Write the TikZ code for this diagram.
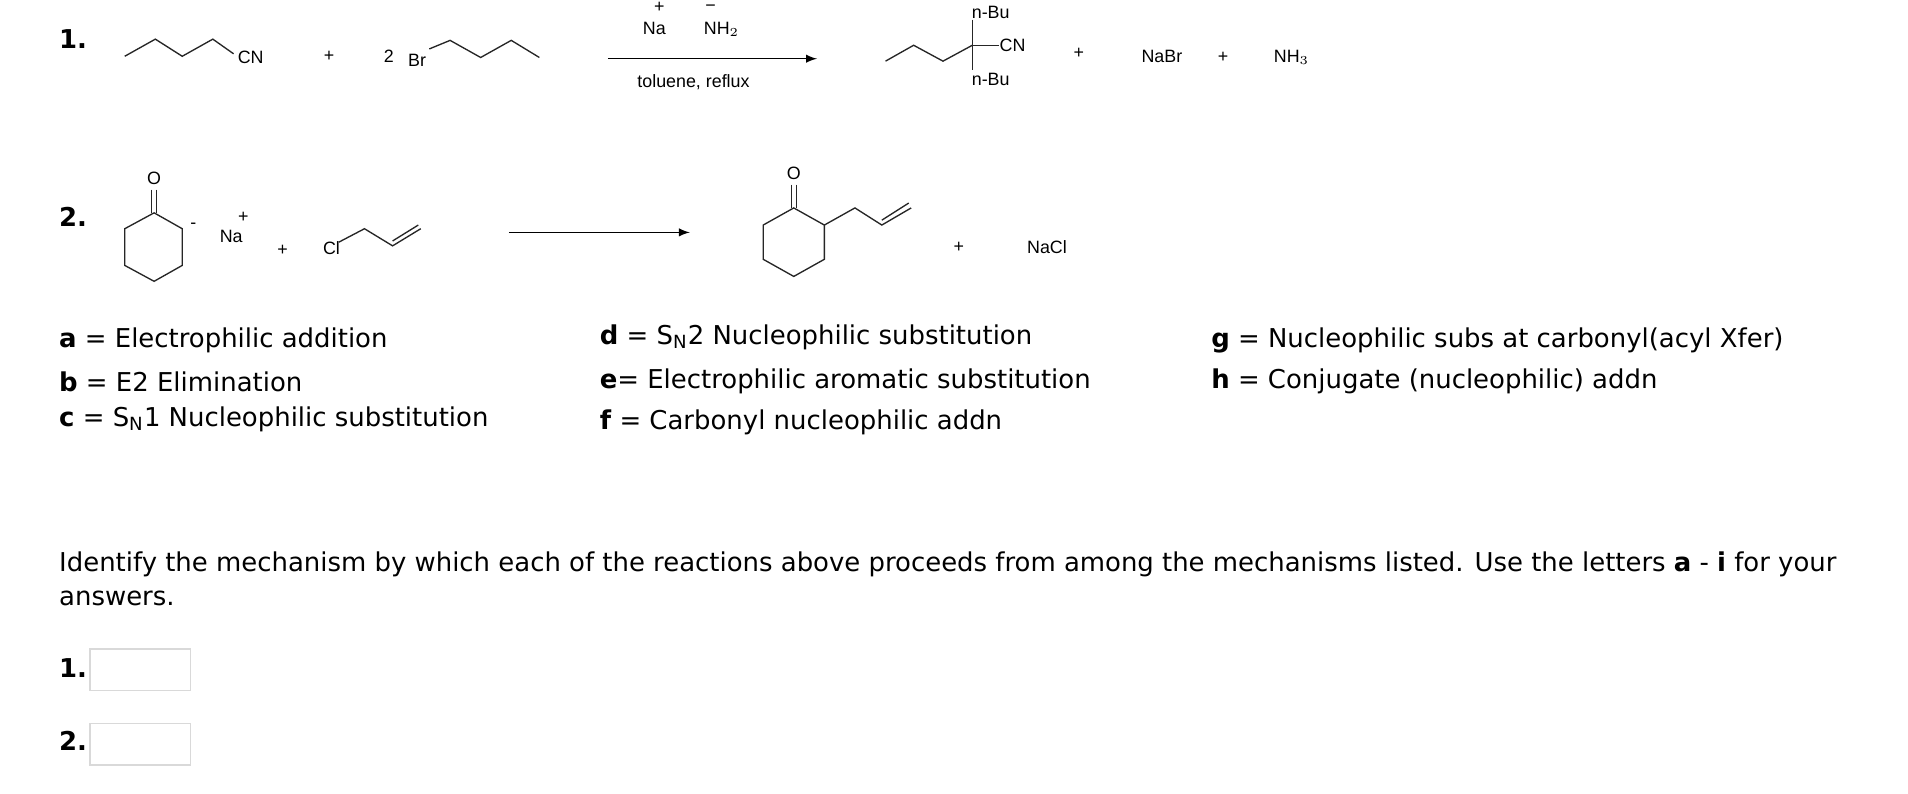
\documentclass[tikz,border=0pt]{standalone}
\usepackage{fontspec}
\setmainfont{DejaVu Sans}
\newfontfamily\chemf{Liberation Sans}
\begin{document}
\begin{tikzpicture}[x=0.5pt,y=-0.5pt,
  bond/.style={line width=0.55pt,black!85},
  chem/.style={font=\chemf\fontsize{7.3}{8}\selectfont,inner sep=0pt},
  txt/.style={font=\fontsize{10.6}{12}\selectfont,anchor=west,inner sep=0pt},
  num/.style={font=\bfseries\fontsize{10.6}{12}\selectfont,anchor=west,inner sep=0pt},
  ansbox/.style={draw=black!15,line width=0.6pt,minimum width=41pt,minimum height=17pt,inner sep=0pt,anchor=north west},
  rarrow/.style={line width=0.55pt,-latex}]
\useasboundingbox (0,0) rectangle (1560,649);
% ---- reaction 1
\node[num] (n1) at (48,32) {1.};
\draw[bond] (102,46)--(127,32)--(149,46)--(174,32)--(191,44);
\node[chem] (cn1) at (205,47) {CN};
\node[chem] (p1) at (269,46) {+};
\node[chem] (two) at (318,46) {2};
\node[chem] (br) at (341,49) {Br};
\draw[bond] (351,40)--(368,33)--(393,47)--(418,33)--(441,47);
\coordinate (a1s) at (497,48); \coordinate (a1e) at (668,48);
\draw[rarrow] (a1s)--(a1e);
\node[chem] (na) at (535,23) {Na};
\node[chem] (nap) at (539,6) {+};
\node[chem] (nh2) at (590,24) {NH$_2$};
\node[chem] (nhm) at (581,7) {\textminus};
\node[chem] (tol) at (567,67) {toluene, reflux};
\draw[bond] (724,50)--(747,37)--(771,50)--(795,37);
\draw[bond] (795,16)--(795,57);
\draw[bond] (795,37)--(817,37);
\node[chem,anchor=west] (cn2) at (817,37) {CN};
\node[chem] (bu1) at (810,10) {n-Bu};
\node[chem] (bu2) at (810,65) {n-Bu};
\node[chem] (p2) at (882,44) {+};
\node[chem] (nabr) at (950,46) {NaBr};
\node[chem] (p3) at (1000,47) {+};
\node[chem] (nh3) at (1056,47) {NH$_3$};
% ---- reaction 2
\node[num] (n2) at (48,177) {2.};
\draw[bond] (126,174)--(149,187)--(149,217)--(126,230)--(102,217)--(102,187)--cycle;
\draw[bond] (124,155)--(124,174) (128,155)--(128,174);
\node[chem] (o1) at (126,146) {O};
\node[chem] (minus) at (158,185) {-};
\node[chem] (na2) at (189,193) {Na};
\node[chem] (na2p) at (199,178) {+};
\node[chem] (p4) at (231,205) {+};
\node[chem] (cl) at (271,203) {Cl};
\draw[bond] (277,198)--(298,187)--(321,201)--(344,187);
\draw[bond] (321,197)--(342,184);
\coordinate (a2s) at (416,190); \coordinate (a2e) at (564,190);
\draw[rarrow] (a2s)--(a2e);
\draw[bond] (649,170)--(674,184)--(674,212)--(649,226)--(624,212)--(624,184)--cycle;
\draw[bond] (647,151)--(647,170) (651,151)--(651,170);
\node[chem] (o2) at (649,142) {O};
\draw[bond] (674,184)--(699,170)--(721,184)--(745,170);
\draw[bond] (721,180)--(743,166);
\node[chem] (p5) at (784,202) {+};
\node[chem] (nacl) at (856,202) {NaCl};
% ---- mechanism list
\node[txt] (la) at (48,278) {\textbf{a} = Electrophilic addition};
\node[txt] (lb) at (48,312) {\textbf{b} = E2 Elimination};
\node[txt] (lc) at (48,343) {\textbf{c} = S\textsubscript{N}1 Nucleophilic substitution};
\node[txt] (ld) at (490,276) {\textbf{d} = S\textsubscript{N}2 Nucleophilic substitution};
\node[txt] (le) at (490,312) {\textbf{e}= Electrophilic aromatic substitution};
\node[txt] (lf) at (490,345) {\textbf{f} = Carbonyl nucleophilic addn};
\node[txt] (lg) at (990,278) {\textbf{g} = Nucleophilic subs at carbonyl(acyl Xfer)};
\node[txt] (lh) at (990,312) {\textbf{h} = Conjugate (nucleophilic) addn};
\node[txt] (q1) at (48,461) {Identify the mechanism by which each of the reactions above proceeds from among the mechanisms listed. Use the letters \textbf{a} - \textbf{i} for your};
\node[txt] (q2) at (48,489) {answers.};
\node[num] (b1l) at (48,546) {1.};
\node[ansbox] (b1) at (73,530) {};
\node[num] (b2l) at (48,606) {2.};
\node[ansbox] (b2) at (73,591) {};
\end{tikzpicture}
\end{document}
